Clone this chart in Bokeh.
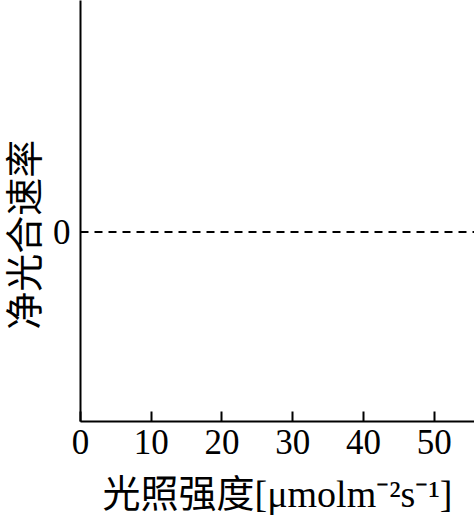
from bokeh.plotting import figure
from bokeh.models import Range1d, FixedTicker
from bokeh.embed import file_html
from bokeh.resources import INLINE

# data
x_ticks = [0, 10, 20, 30, 40, 50]
y_ticks = [0]
x_label = "光照强度[μmolm⁻²s⁻¹]"
y_label = "净光合速率"
zero_line_x = [0, 56]
zero_line_y = [0, 0]

SERIF = "'Liberation Serif', 'Noto Sans CJK SC', serif"

X_MAX = 55.7
Y_MIN, Y_MAX = -1, 232 / 190

p = figure(width=474, height=517, output_backend="svg", toolbar_location=None,
           x_range=Range1d(0, X_MAX), y_range=Range1d(Y_MIN, Y_MAX),
           min_border_left=80, min_border_right=0, min_border_top=0, min_border_bottom=95)
p.outline_line_color = None
p.grid.grid_line_color = None
p.background_fill_color = "white"
p.border_fill_color = "white"

p.line(zero_line_x, zero_line_y, line_color="black", line_width=2, line_dash="8 6")

xa = p.xaxis[0]
xa.ticker = FixedTicker(ticks=x_ticks, minor_ticks=[])
xa.axis_line_width = 2
xa.axis_line_color = "black"
xa.major_tick_in = 10
xa.major_tick_out = 0
xa.major_tick_line_width = 2
xa.minor_tick_in = 0
xa.minor_tick_out = 0
xa.major_label_text_font = SERIF
xa.major_label_text_font_size = "35px"
xa.major_label_text_color = "black"
xa.major_label_standoff = 8
xa.axis_label = x_label
xa.axis_label_text_font = SERIF
xa.axis_label_text_font_size = "38px"
xa.axis_label_text_font_style = "normal"
xa.axis_label_text_color = "black"
xa.axis_label_standoff = 16

ya = p.yaxis[0]
ya.ticker = FixedTicker(ticks=y_ticks, minor_ticks=[])
ya.axis_line_width = 2
ya.axis_line_color = "black"
ya.major_tick_in = 0
ya.major_tick_out = 0
ya.minor_tick_in = 0
ya.minor_tick_out = 0
ya.major_label_text_font = SERIF
ya.major_label_text_font_size = "35px"
ya.major_label_text_color = "black"
ya.major_label_standoff = 10
ya.axis_label = y_label + "\u2002\u2002\u2005"
ya.axis_label_text_font = SERIF
ya.axis_label_text_font_size = "38px"
ya.axis_label_text_font_style = "normal"
ya.axis_label_text_color = "black"
ya.axis_label_standoff = 4

open("out.html", "w").write(file_html(p, INLINE))
